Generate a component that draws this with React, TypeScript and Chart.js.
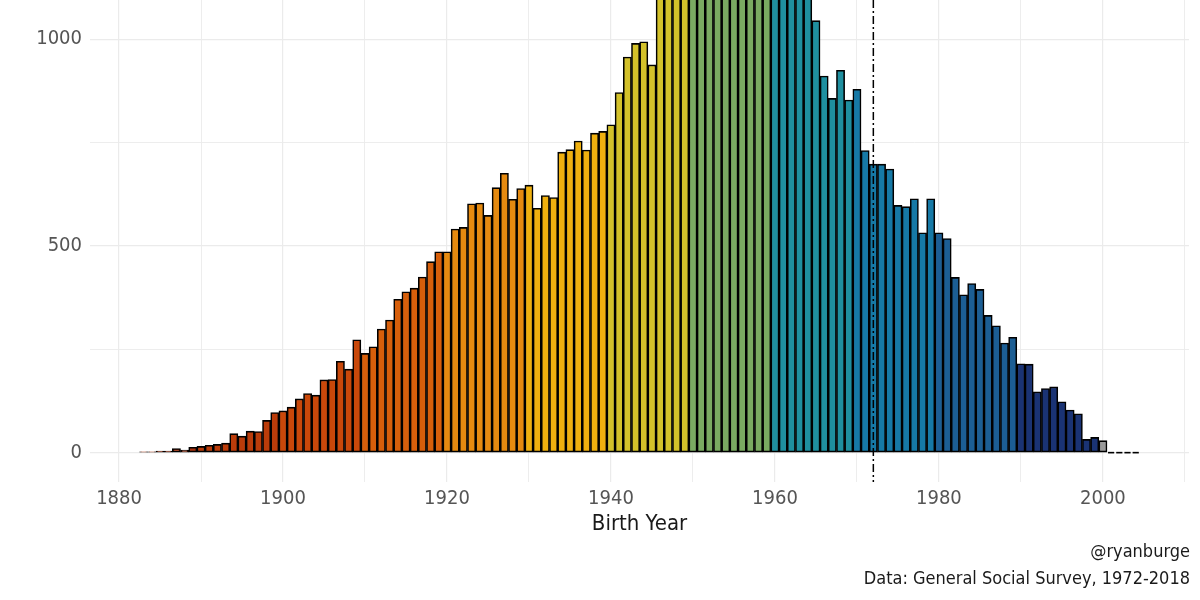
import React, { useEffect, useRef } from "react";
import { Chart, registerables } from "chart.js";

Chart.register(...registerables);

// ---- Data (counts of respondents by birth year) ----
const FIRST_YEAR = 1883;
const counts1880s = [2, 2, 4, 4, 10, 6, 13]; // 1883-1889
const counts1890s = [15, 18, 20, 23, 46, 40, 52, 51, 78, 97];
const counts1900s = [101, 110, 130, 143, 139, 176, 177, 221, 202, 273];
const counts1910s = [240, 256, 299, 321, 371, 389, 398, 425, 462, 486];
const counts1920s = [486, 541, 545, 602, 604, 574, 641, 676, 613, 639];
const counts1930s = [647, 591, 622, 617, 727, 733, 754, 732, 773, 777];
const counts1940s = [793, 871, 957, 990, 994, 938, 1180, 1290, 1300, 1280];
const counts1950s = [1320, 1330, 1350, 1370, 1390, 1400, 1420, 1410, 1380, 1360];
const counts1960s = [1330, 1300, 1250, 1200, 1150, 1045, 911, 857, 925, 853];
const counts1970s = [879, 731, 698, 698, 686, 598, 595, 614, 532, 614];
const counts1980s = [532, 518, 424, 382, 409, 395, 332, 307, 265, 279];
const counts1990s = [215, 214, 147, 155, 159, 123, 103, 94, 32, 37];
const counts2000s = [29, 0, 0, 0, 0]; // 2000-2004

const decadeStarts = [1880, 1890, 1900, 1910, 1920, 1930, 1940, 1950, 1960, 1970, 1980, 1990, 2000];
const decadeColors = [
  "#a8300c", "#bb3c0a", "#c9480a", "#d75f0b", "#e58a10", "#efb00f", "#d3c12a",
  "#7aaa61", "#1f8f9f", "#1679a6", "#1c5e94", "#1a3374", "#9a9a9a",
];

const xTickValues = [1880, 1890, 1900, 1910, 1920, 1930, 1940, 1950, 1960, 1970, 1980, 1990, 2000, 2010];
const yTickValues = [0, 250, 500, 750, 1000];
const SURVEY_START_YEAR = 1972;

const xAxisTitle = "Birth Year";
const captionLines = ["@ryanburge", "Data: General Social Survey, 1972-2018"];

const counts = [
  ...counts1880s, ...counts1890s, ...counts1900s, ...counts1910s, ...counts1920s,
  ...counts1930s, ...counts1940s, ...counts1950s, ...counts1960s, ...counts1970s,
  ...counts1980s, ...counts1990s, ...counts2000s,
];
const years = counts.map((_, i) => FIRST_YEAR + i);

const FONT = '"Liberation Sans Narrow", "DejaVu Sans Condensed", "Roboto", sans-serif';

function colorForYear(yr: number): string {
  let idx = 0;
  for (let i = 0; i < decadeStarts.length; i++) if (yr >= decadeStarts[i]) idx = i;
  return decadeColors[idx];
}

function zeroPadding(s: any) {
  s.paddingTop = 0;
  s.paddingBottom = 0;
  s.paddingLeft = 0;
  s.paddingRight = 0;
}

const extrasPlugin = {
  id: "extras",
  afterDatasetsDraw(chart: any) {
    const { ctx, chartArea, scales } = chart;
    const x = scales.x;
    const y = scales.y;
    ctx.save();
    ctx.strokeStyle = "#000";
    ctx.lineWidth = 1.6;
    const y0 = y.getPixelForValue(0);
    years.forEach((yr, i) => {
      if (counts[i] === 0) {
        const a = x.getPixelForValue(yr - 0.5) + 1;
        const b = x.getPixelForValue(yr + 0.5) - 1;
        ctx.beginPath();
        ctx.moveTo(a, y0);
        ctx.lineTo(b, y0);
        ctx.stroke();
      }
    });
    const vx = x.getPixelForValue(SURVEY_START_YEAR);
    ctx.setLineDash([8, 3, 2, 3]);
    ctx.lineWidth = 1.5;
    ctx.beginPath();
    ctx.moveTo(vx, chartArea.top);
    ctx.lineTo(vx, chartArea.bottom);
    ctx.stroke();
    ctx.restore();
  },
  afterDraw(chart: any) {
    const { ctx, chartArea } = chart;
    ctx.save();
    ctx.fillStyle = "#1a1a1a";
    ctx.textBaseline = "middle";
    ctx.textAlign = "center";
    ctx.font = `22px ${FONT}`;
    ctx.fillText(xAxisTitle, (chartArea.left + chartArea.right) / 2, 524);
    ctx.textAlign = "right";
    ctx.font = `18px ${FONT}`;
    ctx.fillText(captionLines[0], chartArea.right + 1, 552);
    ctx.fillText(captionLines[1], chartArea.right + 1, 579);
    ctx.restore();
  },
};

export default function App() {
  const canvasRef = useRef<HTMLCanvasElement | null>(null);

  useEffect(() => {
    const canvas = canvasRef.current;
    if (!canvas) return;
    const chart = new Chart(canvas, {
      type: "bar",
      data: {
        datasets: [
          {
            data: years.map((yr, i) => ({ x: yr, y: counts[i] })),
            backgroundColor: years.map((yr) => colorForYear(yr)),
            borderColor: "#000000",
            borderWidth: 1.6,
            borderSkipped: false,
            categoryPercentage: 1,
            barPercentage: 1,
          } as any,
        ],
      },
      options: {
        animation: false,
        responsive: false,
        maintainAspectRatio: false,
        devicePixelRatio: 1,
        layout: { padding: { left: 0, right: 11, top: 0, bottom: 0 }, autoPadding: false },
        plugins: {
          legend: { display: false },
          tooltip: { enabled: false },
          title: { display: false },
        },
        scales: {
          x: {
            type: "linear",
            min: 1876.46,
            max: 2010.5,
            offset: false,
            border: { display: false },
            grid: {
              offset: false,
              drawTicks: false,
              color: "#ebebeb",
              lineWidth: (c: any) => (c.tick && c.tick.value % 20 === 0 ? 1.2 : 0.9),
            },
            afterBuildTicks: (s: any) => {
              s.ticks = xTickValues.map((v) => ({ value: v }));
            },
            afterFit: (s: any) => {
              s.height = 118;
              zeroPadding(s);
            },
            ticks: {
              autoSkip: false,
              maxRotation: 0,
              padding: 5,
              color: "#555555",
              font: { family: FONT, size: 20 },
              callback: (v: any) => (Number(v) % 20 === 0 ? String(v) : ""),
            },
          },
          y: {
            type: "linear",
            min: -71,
            max: 1095,
            border: { display: false },
            grid: {
              drawTicks: false,
              color: "#ebebeb",
              lineWidth: (c: any) => (c.tick && c.tick.value % 500 === 0 ? 1.2 : 0.9),
            },
            afterBuildTicks: (s: any) => {
              s.ticks = yTickValues.map((v) => ({ value: v }));
            },
            afterFit: (s: any) => {
              s.width = 90;
              zeroPadding(s);
            },
            ticks: {
              padding: 8,
              color: "#555555",
              font: { family: FONT, size: 20 },
              callback: (v: any) => (Number(v) % 500 === 0 ? String(v) : ""),
            },
          },
        },
      },
      plugins: [extrasPlugin],
    } as any);
    return () => chart.destroy();
  }, []);

  return (
    <div style={{ position: "fixed", left: 0, top: 0, width: 1200, height: 600, background: "#fff" }}>
      <canvas ref={canvasRef} width={1200} height={600} style={{ width: 1200, height: 600, display: "block" }} />
    </div>
  );
}
